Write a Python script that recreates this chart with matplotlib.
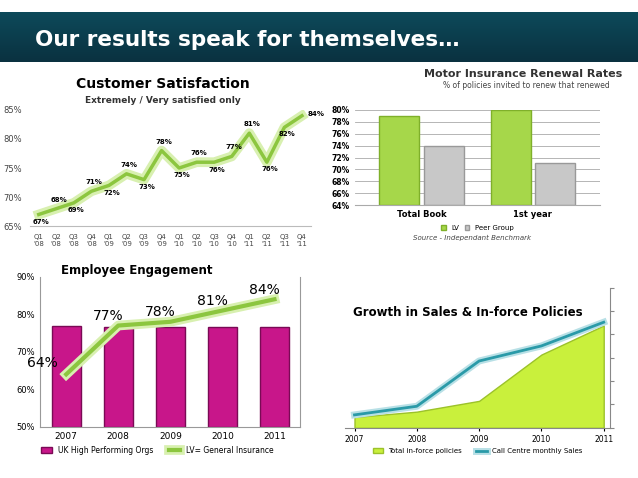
import matplotlib
matplotlib.use("Agg")
import matplotlib.pyplot as plt
import matplotlib.patheffects as pe
import numpy as np

quarters = ["Q1\n'08","Q2\n'08","Q3\n'08","Q4\n'08","Q1\n'09","Q2\n'09","Q3\n'09","Q4\n'09",
            "Q1\n'10","Q2\n'10","Q3\n'10","Q4\n'10","Q1\n'11","Q2\n'11","Q3\n'11","Q4\n'11"]
satisfaction = [67,68,69,71,72,74,73,78,75,76,76,77,81,76,82,84]

renewal_cats = ["Total Book", "1st year"]
renewal_lv = [79, 80]
renewal_peer = [74, 71]

years = ["2007","2008","2009","2010","2011"]
uk_high = [77, 76.5, 76.5, 76.5, 76.5]
lv_gi = [64, 77, 78, 81, 84]

inforce = [10, 15, 25, 68, 95]
callcentre = [12, 20, 62, 76, 98]

fig = plt.figure(figsize=(6.38, 4.78), dpi=100)
fig.patch.set_facecolor("white")
hdr = fig.add_axes([0, 1-62/478, 1, 50/478])
hdr.set_axis_off()
hdr.imshow(np.linspace(0, 1, 100).reshape(-1, 1), aspect="auto", cmap=matplotlib.colors.LinearSegmentedColormap.from_list("h", ["#0d4a5a", "#0a3140"]), extent=[0,1,0,1])
hdr.set_xlim(0, 1); hdr.set_ylim(0, 1)
hdr.text(0.055, 0.45, "Our results speak for themselves\u2026", color="white", fontsize=15.5, fontweight="bold", va="center")

glow = [pe.Stroke(linewidth=7, foreground="#d8f0b0"), pe.Normal()]
green = "#8cc63f"

ax1 = fig.add_axes([0.047, 0.527, 0.44, 0.243])
x = np.arange(len(quarters))
ax1.plot(x, satisfaction, color=green, lw=2.5, path_effects=glow)
for i, v in enumerate(satisfaction):
    off = -1.6 if i % 2 == 0 and i < 12 else 1.2
    if i in (12,): off = 1.3
    if i in (13, 14): off = -1.5
    if i == 15: off = 0
    ax1.text(i + (0.35 if i == 15 else 0.15), v + off, f"{v}%", fontsize=5, fontweight="bold", ha="left" if i == 15 else "center")
ax1.set_xlim(-0.5, 15.5); ax1.set_ylim(65, 85)
ax1.set_yticks([65,70,75,80,85]); ax1.set_yticklabels([f"{t}%" for t in [65,70,75,80,85]], fontsize=6, color="#444")
ax1.set_xticks(x); ax1.set_xticklabels(quarters, fontsize=5, color="#444")
for s in ["top","right","left"]: ax1.spines[s].set_visible(False)
ax1.spines["bottom"].set_color("#bbb")
ax1.tick_params(length=0, pad=6)
fig.text(0.255, 0.815, "Customer Satisfaction", fontsize=10, fontweight="bold", ha="center")
fig.text(0.255, 0.785, "Extremely / Very satisfied only", fontsize=6.5, fontweight="bold", ha="center", color="#333")

ax2 = fig.add_axes([0.556, 0.571, 0.384, 0.199])
xr = np.arange(2)
ax2.bar(xr - 0.2, np.array(renewal_lv) - 64, 0.36, bottom=64, color="#a6d74a", edgecolor="#7fb02a", label="LV")
ax2.bar(xr + 0.2, np.array(renewal_peer) - 64, 0.36, bottom=64, color="#c8c8c8", edgecolor="#999", label="Peer Group")
ax2.set_ylim(64, 80); ax2.set_xlim(-0.6, 1.6)
ax2.set_yticks(range(64, 81, 2)); ax2.set_yticklabels([f"{t}%" for t in range(64, 81, 2)], fontsize=5.5, fontweight="bold")
ax2.yaxis.grid(True, color="#aaa", lw=0.6); ax2.set_axisbelow(True)
ax2.set_xticks(xr); ax2.set_xticklabels(renewal_cats, fontsize=6, fontweight="bold")
ax2.tick_params(length=0)
for s in ["top","right","left"]: ax2.spines[s].set_visible(False)
ax2.spines["bottom"].set_color("#aaa")
ax2.legend(loc="upper center", bbox_to_anchor=(0.5, -0.14), ncol=2, fontsize=5, frameon=False, handlelength=0.7, columnspacing=0.8)
fig.text(0.975, 0.838, "Motor Insurance Renewal Rates", fontsize=8, fontweight="bold", ha="right", color="#333")
fig.text(0.955, 0.815, "% of policies invited to renew that renewed", fontsize=5.5, ha="right", color="#444")
fig.text(0.74, 0.497, "Source - Independant Benchmark", fontsize=5, ha="center", style="italic", color="#444")

ax3 = fig.add_axes([0.063, 0.107, 0.408, 0.314])
xe = np.arange(len(years))
b = ax3.bar(xe, np.array(uk_high) - 50, 0.55, bottom=50, color="#c8168a", edgecolor="#7a0a55", label="UK High Performing Orgs")
l, = ax3.plot(xe, lv_gi, color=green, lw=3, path_effects=glow, label="LV= General Insurance")
offs = [(-0.45, 2), (-0.2, 1.5), (-0.2, 1.5), (-0.2, 1.5), (-0.2, 1.5)]
for i, v in enumerate(lv_gi):
    ax3.text(i + offs[i][0], v + offs[i][1], f"{v}%", fontsize=10, ha="center")
ax3.set_ylim(50, 90); ax3.set_xlim(-0.5, 4.5)
ax3.set_yticks([50,60,70,80,90]); ax3.set_yticklabels([f"{t}%" for t in [50,60,70,80,90]], fontsize=6)
ax3.set_xticks(xe); ax3.set_xticklabels(years, fontsize=6.5)
ax3.tick_params(length=0)
for s in ax3.spines.values(): s.set_color("#999")
ax3.spines["top"].set_visible(False)
ax3.legend([b, l], ["UK High Performing Orgs", "LV= General Insurance"], loc="upper center", bbox_to_anchor=(0.45, -0.08), ncol=2, fontsize=5.5, frameon=False, handlelength=1.5)
ax3.text(0.08, 1.0, "Employee Engagement", transform=ax3.transAxes, fontsize=8.5, fontweight="bold", va="bottom")

ax4 = fig.add_axes([0.541, 0.105, 0.415, 0.293])
xg = np.arange(len(years))
ax4.fill_between(xg, 0, inforce, color="#c9f03c", edgecolor="#9cc22a", label="Total in-force policies")
ax4.plot(xg, callcentre, color="#2a9aa8", lw=2, path_effects=[pe.Stroke(linewidth=5, foreground="#b8e0e6"), pe.Normal()], label="Call Centre monthly Sales")
ax4.set_xlim(-0.15, 4.1); ax4.set_ylim(0, 130)
ax4.set_xticks(xg); ax4.set_xticklabels(years, fontsize=5.5)
ax4.set_yticks(np.linspace(0, 130, 7)); ax4.set_yticklabels([])
ax4.yaxis.tick_right(); ax4.tick_params(axis="y", length=3, color="#888"); ax4.tick_params(axis="x", length=2)
for s in ["top","left"]: ax4.spines[s].set_visible(False)
for s in ["bottom","right"]: ax4.spines[s].set_color("#888")
ax4.legend(loc="upper center", bbox_to_anchor=(0.5, -0.1), ncol=2, fontsize=5, frameon=False, handlelength=1.5)
ax4.text(0.03, 0.8, "Growth in Sales & In-force Policies", transform=ax4.transAxes, fontsize=8.5, fontweight="bold")

fig.savefig("out.png", dpi=100)
